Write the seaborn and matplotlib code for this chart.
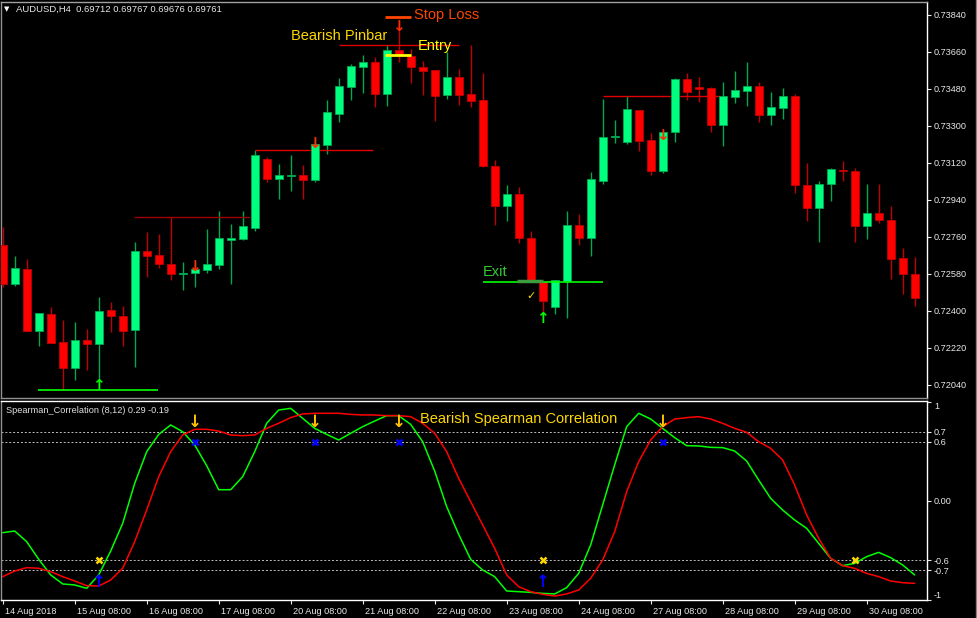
import matplotlib.pyplot as plt
import matplotlib.transforms as mtransforms
from matplotlib.lines import Line2D
import numpy as np
import seaborn as sns

sns.set_theme(style="dark", rc={"axes.facecolor": "black", "figure.facecolor": "black"})
plt.rcParams["font.family"] = ["Liberation Sans", "DejaVu Sans"]

# AUDUSD H4 candles, 14 Aug - 30 Aug 2018
opens = [0.72721, 0.72531, 0.72604, 0.72303, 0.72385, 0.72249, 0.72123, 0.72259, 0.72239, 0.72405,
         0.72376, 0.72308, 0.72692, 0.72672, 0.72629, 0.72580, 0.72585, 0.72599, 0.72624, 0.72747,
         0.72750, 0.72804, 0.73139, 0.73042, 0.73057, 0.73062, 0.73037, 0.73208, 0.73358, 0.73490,
         0.73587, 0.73611, 0.73456, 0.73670, 0.73641, 0.73587, 0.73572, 0.73451, 0.73538, 0.73456,
         0.73426, 0.73105, 0.72911, 0.72969, 0.72755, 0.72541, 0.72419, 0.72546, 0.72818, 0.72755,
         0.73032, 0.73246, 0.73222, 0.73378, 0.73232, 0.73081, 0.73271, 0.73529, 0.73490, 0.73485,
         0.73305, 0.73441, 0.73470, 0.73495, 0.73354, 0.73388, 0.73446, 0.73013, 0.72901, 0.73018,
         0.73086, 0.73081, 0.72814, 0.72877, 0.72843, 0.72658, 0.72580]
highs = [0.72809, 0.72668, 0.72653, 0.72390, 0.72419, 0.72356, 0.72346, 0.72312, 0.72468, 0.72444,
         0.72424, 0.72736, 0.72784, 0.72775, 0.72857, 0.72638, 0.72638, 0.72799, 0.72886, 0.72823,
         0.72886, 0.73183, 0.73149, 0.73115, 0.73159, 0.73110, 0.73237, 0.73426, 0.73534, 0.73602,
         0.73645, 0.73636, 0.73694, 0.73806, 0.73675, 0.73616, 0.73572, 0.73660, 0.73577, 0.73694,
         0.73558, 0.73135, 0.73013, 0.73003, 0.72789, 0.72541, 0.72551, 0.72886, 0.72872, 0.73076,
         0.73431, 0.73329, 0.73446, 0.73378, 0.73266, 0.73276, 0.73534, 0.73558, 0.73538, 0.73490,
         0.73514, 0.73568, 0.73611, 0.73514, 0.73465, 0.73485, 0.73456, 0.73120, 0.73032, 0.73096,
         0.73130, 0.73096, 0.73018, 0.73018, 0.72911, 0.72706, 0.72663]
lows = [0.72517, 0.72522, 0.72303, 0.72230, 0.72244, 0.72016, 0.72064, 0.72113, 0.72069, 0.72298,
        0.72230, 0.72128, 0.72565, 0.72609, 0.72551, 0.72502, 0.72517, 0.72585, 0.72604, 0.72531,
        0.72745, 0.72789, 0.73028, 0.72945, 0.72984, 0.72945, 0.73028, 0.73164, 0.73319, 0.73426,
        0.73461, 0.73392, 0.73397, 0.73611, 0.73509, 0.73451, 0.73324, 0.73431, 0.73402, 0.73392,
        0.73101, 0.72818, 0.72838, 0.72731, 0.72546, 0.72395, 0.72385, 0.72366, 0.72721, 0.72668,
        0.73018, 0.73217, 0.73212, 0.73178, 0.73062, 0.73071, 0.73222, 0.73426, 0.73417, 0.73271,
        0.73203, 0.73412, 0.73397, 0.73319, 0.73305, 0.73334, 0.72974, 0.72838, 0.72736, 0.72935,
        0.73032, 0.72736, 0.72750, 0.72828, 0.72556, 0.72483, 0.72424]
closes = [0.72531, 0.72609, 0.72303, 0.72390, 0.72244, 0.72123, 0.72259, 0.72239, 0.72400, 0.72376,
          0.72303, 0.72692, 0.72668, 0.72629, 0.72580, 0.72585, 0.72604, 0.72629, 0.72755, 0.72755,
          0.72814, 0.73159, 0.73042, 0.73062, 0.73062, 0.73037, 0.73212, 0.73368, 0.73495, 0.73592,
          0.73611, 0.73456, 0.73670, 0.73645, 0.73587, 0.73568, 0.73446, 0.73538, 0.73451, 0.73422,
          0.73105, 0.72911, 0.72969, 0.72755, 0.72546, 0.72449, 0.72551, 0.72818, 0.72755, 0.73042,
          0.73246, 0.73251, 0.73383, 0.73227, 0.73081, 0.73271, 0.73529, 0.73465, 0.73480, 0.73305,
          0.73446, 0.73475, 0.73495, 0.73354, 0.73392, 0.73446, 0.73013, 0.72901, 0.73018, 0.73091,
          0.73081, 0.72814, 0.72877, 0.72843, 0.72653, 0.72580, 0.72463]

# Spearman correlation (8,12): fast (green) and slow (red)
spearman_fast = [-0.320, -0.303, -0.411, -0.589, -0.747, -0.838, -0.848, -0.882, -0.747, -0.505,
                 -0.226, 0.178, 0.498, 0.673, 0.768, 0.700, 0.566, 0.357, 0.114, 0.114,
                 0.246, 0.498, 0.785, 0.919, 0.936, 0.835, 0.734, 0.673, 0.616, 0.684,
                 0.751, 0.808, 0.862, 0.862, 0.774, 0.599, 0.303, -0.057, -0.337, -0.589,
                 -0.697, -0.764, -0.909, -0.916, -0.923, -0.933, -0.939, -0.875, -0.731, -0.444,
                 -0.040, 0.364, 0.751, 0.886, 0.828, 0.734, 0.640, 0.559, 0.556, 0.542,
                 0.539, 0.505, 0.404, 0.212, 0.027, -0.091, -0.192, -0.276, -0.428, -0.579,
                 -0.653, -0.630, -0.562, -0.519, -0.572, -0.646, -0.747]
spearman_slow = [-0.764, -0.707, -0.673, -0.680, -0.714, -0.764, -0.808, -0.855, -0.859, -0.798,
                 -0.680, -0.411, -0.091, 0.246, 0.498, 0.667, 0.724, 0.724, 0.707, 0.667,
                 0.660, 0.667, 0.734, 0.785, 0.842, 0.879, 0.886, 0.886, 0.886, 0.875,
                 0.869, 0.869, 0.862, 0.862, 0.852, 0.785, 0.684, 0.498, 0.229, -0.007,
                 -0.242, -0.478, -0.747, -0.865, -0.916, -0.943, -0.960, -0.939, -0.899, -0.781,
                 -0.596, -0.310, 0.094, 0.397, 0.616, 0.751, 0.828, 0.842, 0.852, 0.828,
                 0.785, 0.734, 0.694, 0.599, 0.532, 0.414, 0.162, -0.141, -0.377, -0.579,
                 -0.653, -0.680, -0.731, -0.764, -0.808, -0.825, -0.832]

date_labels = ["14 Aug 2018", "15 Aug 08:00", "16 Aug 08:00", "17 Aug 08:00", "20 Aug 08:00",
               "21 Aug 08:00", "22 Aug 08:00", "23 Aug 08:00", "24 Aug 08:00", "27 Aug 08:00",
               "28 Aug 08:00", "29 Aug 08:00", "30 Aug 08:00"]
price_ticks = [0.73840, 0.73660, 0.73480, 0.73300, 0.73120, 0.72940, 0.72760, 0.72580,
               0.72400, 0.72220, 0.72040]
level_ticks = [1, 0.7, 0.6, 0, -0.6, -0.7, -1]
level_labels = ["1", "0.7", "0.6", "0.00", "-0.6", "-0.7", "-1"]

bull_signals = [8, 45]
bear_signals = [16, 26, 33, 55]
cross_marks = [8, 45, 71]
stop_loss = 0.73832
exit_level = 0.72540

W, H = 977, 618
fig = plt.figure(figsize=(W / 100, H / 100), dpi=100)
ax = fig.add_axes([1 / W, 220 / H, 926 / W, 396 / H])
ax2 = fig.add_axes([1 / W, 18 / H, 926 / W, 199 / H])

x = np.arange(len(opens))
o = np.array(opens)
c = np.array(closes)
up = c >= o
body_col = np.where(up, "#00FF7F", "#FF0000")
wick_col = np.where(up, "#00A850", "#C00000")
bottoms = np.minimum(o, c)
heights = np.maximum(np.abs(c - o), 0.00004)

ax.vlines(x, lows, highs, colors=wick_col, lw=1, zorder=2)
ax.bar(x, heights, bottom=bottoms, width=0.67, color=body_col, edgecolor=wick_col,
       linewidth=0.6, zorder=3)

# support / resistance and trade levels
ax.hlines(lows[5], 2.94, 12.94, color="#00FF00", lw=1.2)
ax.hlines(highs[14], 10.94, 20.6, color="#A00000", lw=1)
ax.hlines(highs[21], 21.0, 30.9, color="#E00000", lw=1)
ax.hlines(highs[32], 28.0, 38.0, color="#E00000", lw=1)
ax.hlines(highs[52], 50.0, 59.8, color="#E00000", lw=1)
ax.hlines(exit_level, 40.0, 50.0, color="#00FF00", lw=1.2, zorder=4)
ax.hlines(closes[44], 42.9, 45.0, color="#3E9B3E", lw=2.5, zorder=4)
ax.hlines(stop_loss, 31.9, 34.0, color="#FF4500", lw=2)
ax.hlines(closes[33], 31.9, 34.0, color="#FFFF00", lw=2, zorder=4)

for i in bear_signals:
    ax.annotate("↓", xy=(i, highs[i]), xytext=(0, -3), textcoords="offset points",
                ha="center", va="center", color="#FF2A00", fontsize=11, fontweight="bold",
                family="DejaVu Sans", zorder=5)
for i in bull_signals:
    ax.annotate("↑", xy=(i, lows[i]), xytext=(0, -5), textcoords="offset points",
                ha="center", va="center", color="#00FF00", fontsize=11, fontweight="bold",
                family="DejaVu Sans", zorder=5)

ax.text(24.0, 0.73740, "Bearish Pinbar", color="#FFD700", fontsize=10.5, va="center")
ax.text(34.3, 0.73842, "Stop Loss", color="#FF4500", fontsize=10.5, va="center")
ax.text(34.6, 0.73687, "Entry", color="#FFFF00", fontsize=10.5, va="center")
ax.text(40.0, 0.72590, "Exit", color="#32CD32", fontsize=10.5, va="center")
ax.text(44.0, 0.72471, "✓", color="#FFD700", fontsize=8, va="center", ha="center",
        family="DejaVu Sans")

ax.set_xlim(-0.142, 77.03)
ax.set_ylim(0.719767, 0.739032)
ax.set_xticks([])
ax.yaxis.tick_right()
ax.set_yticks(price_ticks)
ax.set_yticklabels([f"{p:.5f}" for p in price_ticks])
ax.tick_params(axis="y", right=True, left=False, colors="#E8E8E8", length=3,
               width=0.8, labelsize=6.6, pad=2)
ax.grid(False)

# indicator window
for lvl in [0.7, 0.6, -0.6, -0.7]:
    ax2.axhline(lvl, color="#BEBEBE", lw=0.7, ls=(0, (2, 2)))
sns.lineplot(x=x, y=spearman_fast, ax=ax2, color="#00FF00", lw=1.1, legend=False)
sns.lineplot(x=x, y=spearman_slow, ax=ax2, color="#FF0000", lw=1.1, legend=False)

ax2.plot(cross_marks, [-0.6] * len(cross_marks), "x", color="#FFD700", ms=5, mew=1.8)
ax2.plot(bear_signals, [0.6] * len(bear_signals), "x", color="#0000FF", ms=5, mew=1.8)
for i in bull_signals:
    ax2.text(i, -0.815, "↑", color="#0000FF", fontsize=12, fontweight="bold",
             ha="center", va="center", family="DejaVu Sans")
for i in bear_signals:
    ax2.text(i, 0.80, "↓", color="#FFC000", fontsize=12, fontweight="bold",
             ha="center", va="center", family="DejaVu Sans")

ax2.text(34.8, 0.828, "Bearish Spearman Correlation", color="#FFD700", fontsize=10.5,
         va="center")
ax2.text(5 / 926, 0.952, "Spearman_Correlation (8,12) 0.29 -0.19", color="#E0E0E0",
         fontsize=6.6, va="center", transform=ax2.transAxes)

ax2.set_xlim(-0.142, 77.03)
ax2.set_ylim(-1.0, 1.0101)
ax2.yaxis.tick_right()
ax2.set_yticks(level_ticks)
ax2.set_yticklabels(level_labels)
ylbls = ax2.get_yticklabels()
ylbls[0].set_va("top")
ylbls[-1].set_va("bottom")
ax2.tick_params(axis="y", right=True, left=False, colors="#E8E8E8", length=3,
                width=0.8, labelsize=6.6, pad=2)
ax2.set_xticks(np.arange(0, len(opens), 6))
ax2.set_xticklabels(date_labels)
ax2.tick_params(axis="x", bottom=True, colors="#E8E8E8", length=3, width=0.8,
                labelsize=6.6, pad=2)
shift = mtransforms.ScaledTranslation(2 / 100, 0, fig.dpi_scale_trans)
for lbl in ax2.get_xticklabels():
    lbl.set_ha("left")
    lbl.set_transform(lbl.get_transform() + shift)
ax2.set_xlabel("")
ax2.set_ylabel("")
ax2.grid(False)

for a, top_col in [(ax, "#A0A0A0"), (ax2, "#FFFFFF")]:
    for s in a.spines.values():
        s.set_visible(True)
        s.set_linewidth(1)
    a.spines["left"].set_color("#909090")
    a.spines["top"].set_color(top_col)
    a.spines["right"].set_color("#FFFFFF")
ax.spines["bottom"].set_color("#909090")
ax2.spines["bottom"].set_color("#FFFFFF")

fig.text(7 / W, 1 - 9.5 / H, "▼", color="white", fontsize=5, va="center", ha="center",
         family="DejaVu Sans")
fig.text(16 / W, 1 - 9.5 / H, "AUDUSD,H4  0.69712 0.69767 0.69676 0.69761",
         color="#E8E8E8", fontsize=6.8, va="center")
fig.add_artist(Line2D([975.5 / W] * 2, [0, 1], color="#808080", lw=1,
                      transform=fig.transFigure))

fig.savefig("out.png", dpi=100, facecolor="black")
